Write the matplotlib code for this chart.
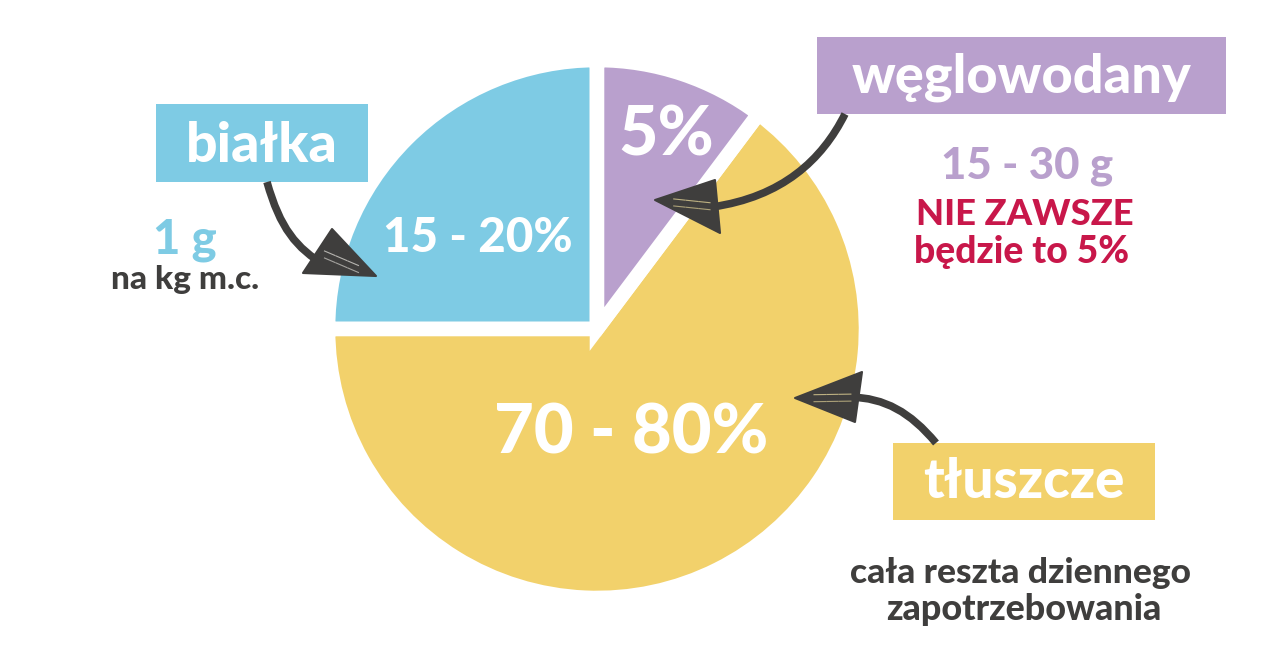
import matplotlib
matplotlib.use('Agg')
import matplotlib.pyplot as plt
from matplotlib.path import Path
from matplotlib.patches import PathPatch, Polygon, Rectangle

# ---- data ----
categories = ['białka', 'tłuszcze', 'węglowodany']
shares = [25.0, 64.75, 10.25]            # angular share of each slice as drawn
slice_labels = ['15 - 20%', '70 - 80%', '5%']
colors = ['#7ECBE4', '#F2D16B', '#B9A0CD']
notes_bialka = ['1 g', 'na kg m.c.']
notes_wegle = ['15 - 30 g', 'NIE ZAWSZE', 'będzie to 5%']
notes_tluszcze = ['cała reszta dziennego', 'zapotrzebowania']

W, H = 1280, 656
DARK = '#3F3E3D'
RED = '#C8174A'
FONT = ['Lato', 'DejaVu Sans']
WEIGHT = 'black'

fig = plt.figure(figsize=(12.8, 6.56), dpi=100)
ax = fig.add_axes([0, 0, 1, 1])


def Y(y):
    return H - y


cx, cy, r = 597, Y(329), 269
ax.pie(shares, colors=colors, startangle=90, counterclock=True,
       center=(cx, cy), radius=r,
       wedgeprops=dict(edgecolor='white', linewidth=10.5, joinstyle='miter'))
ax.set_xlim(0, W)
ax.set_ylim(0, H)
ax.set_aspect('equal')
ax.axis('off')


def txt(x, y, s, size, color, z=4):
    ax.text(x, Y(y), s, fontsize=size, color=color, ha='center',
            va='baseline', family=FONT, fontweight=WEIGHT, zorder=z)


# slice labels
txt(478, 252, slice_labels[0], 34.2, 'white')
txt(631, 453, slice_labels[1], 49.5, 'white')
txt(666, 155, slice_labels[2], 49, 'white')


# label boxes
def box(x0, y0, x1, y1, color, label, size, base):
    ax.add_patch(Rectangle((x0, Y(y1)), x1 - x0, y1 - y0, facecolor=color,
                           edgecolor='none', zorder=3))
    txt((x0 + x1) / 2, base, label, size, 'white')


box(156, 104, 368, 182, colors[0], categories[0], 40, 162)
box(817, 37, 1226, 114, colors[2], categories[2], 39, 93)
box(893, 443, 1155, 520, colors[1], categories[1], 39.5, 498)

# notes
txt(185, 253, notes_bialka[0], 34, colors[0])
txt(185, 289, notes_bialka[1], 24, DARK)
txt(1027, 178, notes_wegle[0], 31.5, colors[2])
txt(1025, 225, notes_wegle[1], 26.2, RED)
txt(1022, 263, notes_wegle[2], 26.8, RED)
txt(1021, 583, notes_tluszcze[0], 25.5, DARK)
txt(1024, 620, notes_tluszcze[1], 25.8, DARK)


# sketchy arrows
def arrow(pts, head, hatch_color):
    verts = [(x, Y(y)) for x, y in pts]
    path = Path(verts, [Path.MOVETO, Path.CURVE4, Path.CURVE4, Path.CURVE4])
    ax.add_patch(PathPatch(path, facecolor='none', edgecolor=DARK, lw=5.5,
                           capstyle='butt', zorder=5))
    ax.add_patch(Polygon([(x, Y(y)) for x, y in head], closed=True,
                         facecolor=DARK, edgecolor=DARK, lw=1.5,
                         joinstyle='round', zorder=6))
    # light hatch strokes inside the head
    (ax0, ay0), (bx, by), (cx_, cy_) = head
    mx, my = (bx + cx_) / 2, (by + cy_) / 2
    for t in (0.3, 0.5, 0.7):
        px, py = ax0 + (mx - ax0) * t, ay0 + (my - ay0) * t
        qx, qy = px + (mx - ax0) * 0.18, py + (my - ay0) * 0.18
        ax.plot([px, qx], [Y(py) + 3, Y(qy) + 3], color=hatch_color, lw=0.8,
                alpha=0.7, zorder=7)
        ax.plot([px, qx], [Y(py) - 4, Y(qy) - 4], color=hatch_color, lw=0.8,
                alpha=0.6, zorder=7)


arrow([(267, 182), (280, 228), (296, 248), (326, 266)],
      [(376, 276), (332, 229), (303, 273)], '#E8E6E0')
arrow([(845, 114), (822, 160), (782, 197), (712, 207)],
      [(655, 200), (715, 180), (720, 233)], '#F4E3A0')
arrow([(936, 443), (910, 412), (885, 398), (850, 397)],
      [(795, 398), (862, 372), (855, 422)], '#F4E3A0')

fig.savefig('out.png', dpi=100, facecolor='white')
